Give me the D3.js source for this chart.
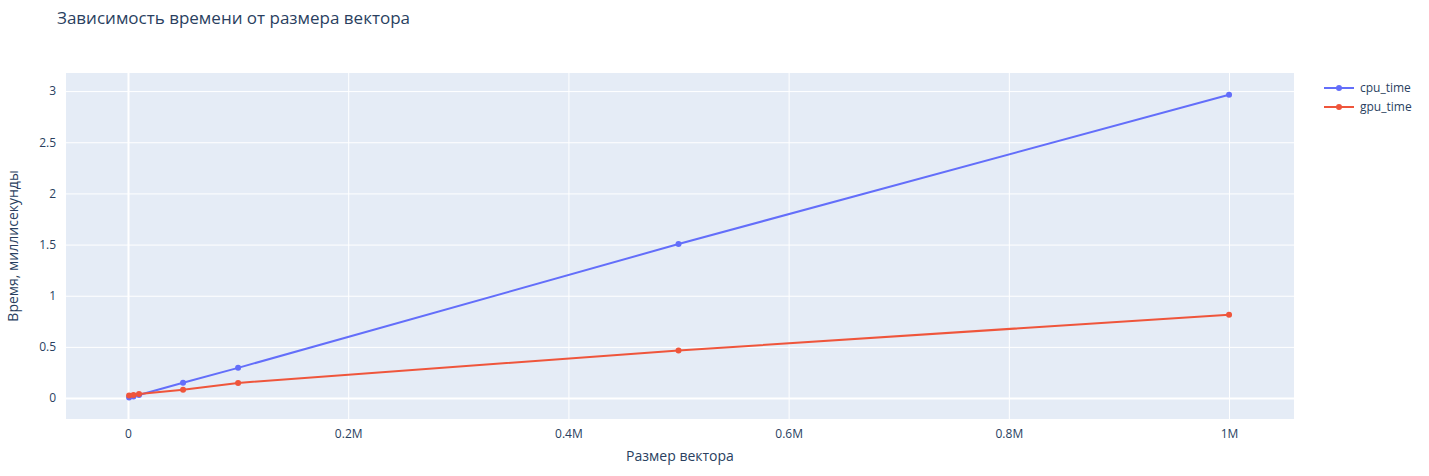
<!DOCTYPE html>
<html><head><meta charset="utf-8">
<script src="https://cdn.jsdelivr.net/npm/d3@7"></script>
<style>body{margin:0;background:#fff}text{font-family:"Open Sans",sans-serif}</style>
</head><body><svg id="c" width="1429" height="476"></svg>
<script>
const sizes = [1000, 5000, 10000, 50000, 100000, 500000, 1000000];
const cpuTime = [0.005, 0.015, 0.03, 0.15, 0.295, 1.505, 2.965];
const gpuTime = [0.025, 0.03, 0.04, 0.08, 0.148, 0.465, 0.815];
const xTicks = [0, 200000, 400000, 600000, 800000, 1000000];
const xTickLabels = ["0", "0.2M", "0.4M", "0.6M", "0.8M", "1M"];
const yTicks = [0, 0.5, 1, 1.5, 2, 2.5, 3];

const svg = d3.select("#c");
const m = {l: 66, r: 1294, t: 73, b: 419};
const x = d3.scaleLinear().domain([-56300, 1059000]).range([m.l, m.r]);
const y = d3.scaleLinear().domain([-0.205, 3.177]).range([m.b, m.t]);

svg.append("rect").attr("x", m.l).attr("y", m.t).attr("width", m.r - m.l).attr("height", m.b - m.t).attr("fill", "#e5ecf6");

const gx = svg.append("g").attr("transform", `translate(0,${m.b})`)
  .call(d3.axisBottom(x).tickValues(xTicks).tickFormat((d, i) => xTickLabels[i]).tickSize(-(m.b - m.t)).tickPadding(10));
const gy = svg.append("g").attr("transform", `translate(${m.l},0)`)
  .call(d3.axisLeft(y).tickValues(yTicks).tickFormat(d3.format("~g")).tickSize(-(m.r - m.l)).tickPadding(10));
[gx, gy].forEach(g => {
  g.select(".domain").remove();
  g.selectAll("line").attr("stroke", "#fff").attr("stroke-width", 1);
  g.selectAll("text").attr("fill", "#2a3f5f").style("font-size", "12px");
});
gy.selectAll(".tick").filter(d => d === 0).select("line").attr("stroke-width", 2);
gx.selectAll(".tick").filter(d => d === 0).select("line").attr("stroke-width", 2);

const series = [{name: "cpu_time", vals: cpuTime, color: "#636efa"}, {name: "gpu_time", vals: gpuTime, color: "#ef553b"}];
const line = d3.line().x(d => x(d[0])).y(d => y(d[1]));
series.forEach((s, k) => {
  const pts = sizes.map((v, i) => [v, s.vals[i]]);
  svg.append("path").attr("d", line(pts)).attr("fill", "none").attr("stroke", s.color).attr("stroke-width", 2);
  svg.selectAll(null).data(pts).join("circle").attr("cx", d => x(d[0])).attr("cy", d => y(d[1])).attr("r", 3).attr("fill", s.color);
  const ly = 88 + k * 19;
  svg.append("line").attr("x1", 1324).attr("x2", 1354).attr("y1", ly).attr("y2", ly).attr("stroke", s.color).attr("stroke-width", 2);
  svg.append("circle").attr("cx", 1339).attr("cy", ly).attr("r", 3).attr("fill", s.color);
  svg.append("text").attr("x", 1360).attr("y", ly + 4).text(s.name).attr("fill", "#2a3f5f").style("font-size", "12px");
});

svg.append("text").attr("x", 57).attr("y", 24).text("Зависимость времени от размера вектора").attr("fill", "#2a3f5f").style("font-size", "17px");
svg.append("text").attr("x", (m.l + m.r) / 2).attr("y", 461).attr("text-anchor", "middle").text("Размер вектора").attr("fill", "#2a3f5f").style("font-size", "14px");
svg.append("text").attr("transform", `translate(18,${(m.t + m.b) / 2}) rotate(-90)`).attr("text-anchor", "middle").text("Время, миллисекунды").attr("fill", "#2a3f5f").style("font-size", "14px");
</script></body></html>
